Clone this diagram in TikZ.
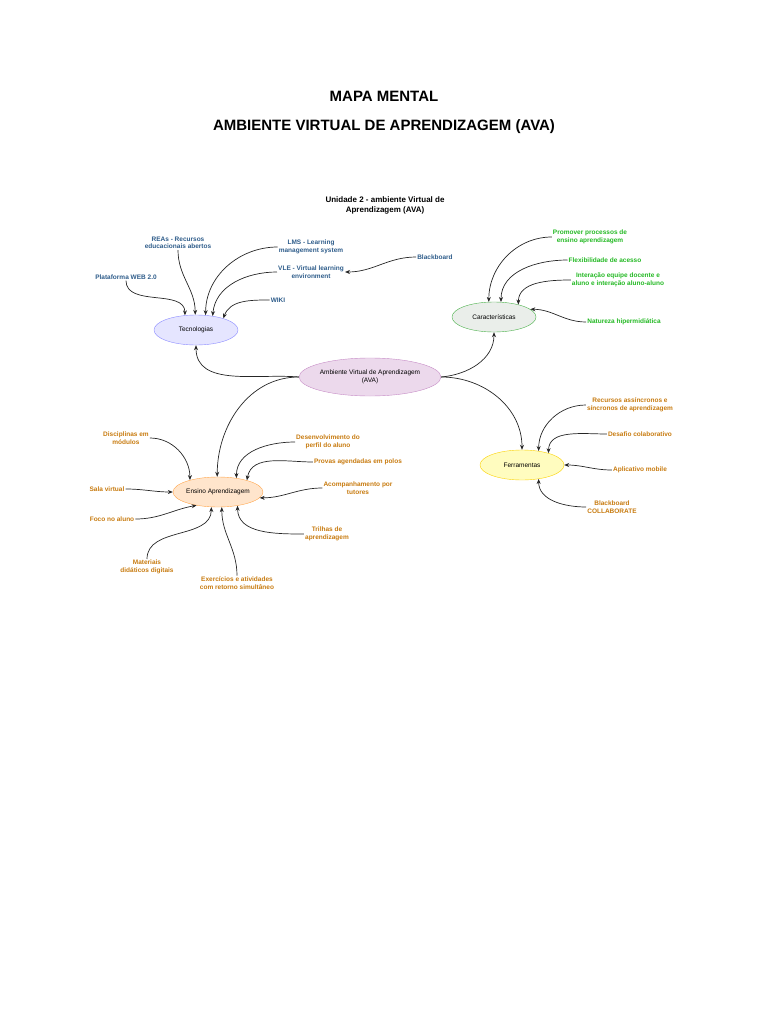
\documentclass[tikz,border=0pt]{standalone}
\usepackage{fontspec}
\setmainfont{Liberation Sans}
\usetikzlibrary{shapes.geometric,arrows.meta}
\definecolor{tblue}{HTML}{2E5C8A}
\definecolor{tgreen}{HTML}{22B822}
\definecolor{torange}{HTML}{C77A0E}
\tikzset{
  el/.style={ellipse,draw,minimum width=84pt,minimum height=30pt,inner sep=0pt,font=\fontsize{6.5}{7.5}\selectfont},
  lb/.style={align=center,inner sep=1pt,font=\bfseries\fontsize{6.5}{7.5}\selectfont},
  bl/.style={lb,text=tblue},
  gl/.style={lb,text=tgreen},
  ol/.style={lb,text=torange},
  ar/.style={-{Stealth[length=5pt,width=4pt]},line width=0.7pt,black!85}
}
\begin{document}
\begin{tikzpicture}[x=1pt,y=1pt]
\useasboundingbox (0,0) rectangle (768,-1024);
\node[font=\bfseries\fontsize{15}{18}\selectfont] (t1) at (384,-96) {MAPA MENTAL};
\node[font=\bfseries\fontsize{15}{18}\selectfont] (t2) at (384,-127) {AMBIENTE VIRTUAL DE APRENDIZAGEM (AVA)};
\node[align=center,font=\bfseries\fontsize{8}{10}\selectfont] (st) at (385,-205) {Unidade 2 - ambiente Virtual de\\Aprendizagem (AVA)};

\node[el,fill=blue!10,draw=blue!45] (tec) at (196,-330) {Tecnologias};
\node[el,fill=green!12!gray!15,draw=green!40!gray] (car) at (494,-317) {Características};
\node[el,fill=violet!15,draw=violet!45,minimum width=112pt,minimum height=38pt,align=center] (amb) at (370,-377) {Ambiente Virtual de Aprendizagem\\(AVA)};
\node[el,fill=yellow!25,draw=yellow!70!orange] (fer) at (522,-465) {Ferramentas};
\node[el,fill=orange!20,draw=orange!70] (ens) at (218,-492) {Ensino Aprendizagem};

% blue
\node[bl] (rea) at (178,-243) {REAs - Recursos\\educacionais abertos};
\node[bl] (lms) at (311,-247) {LMS - Learning\\management system};
\node[bl] (web) at (126,-277) {Plataforma WEB 2.0};
\node[bl] (vle) at (311,-272) {VLE - Virtual learning\\environment};
\node[bl] (bb) at (435,-257) {Blackboard};
\node[bl] (wiki) at (278,-300) {WIKI};
\draw[ar] (rea.south) to[out=-90,in=90] (tec.93);
\draw[ar] (lms.west) to[out=180,in=90] (tec.57);
\draw[ar] (web.south) to[out=-90,in=90] (tec.127);
\draw[ar] (vle.west) to[out=180,in=85] (tec.40);
\draw[ar] (wiki.west) to[out=180,in=70] (tec.23);
\draw[ar] (bb.west) to[out=180,in=0] (vle.east);

% green
\node[gl] (pro) at (590,-237) {Promover processos de\\ensino aprendizagem};
\node[gl] (fle) at (605,-260) {Flexibilidade de acesso};
\node[gl] (int) at (618,-280) {Interação equipe docente e\\aluno e interação aluno-aluno};
\node[gl] (nat) at (624,-322) {Natureza hipermidiática};
\draw[ar] (pro.west) to[out=180,in=90] (car.109);
\draw[ar] (fle.west) to[out=180,in=90] (car.65);
\draw[ar] (int.west) to[out=180,in=90] (car.27);
\draw[ar] (nat.west) to[out=180,in=0] (car.12);

% central
\draw[ar] (amb.west) to[out=175,in=-90] (tec.south);
\draw[ar] (amb.east) to[out=5,in=-90] (car.south);
\draw[ar] (amb.east) to[out=0,in=90] (fer.north);
\draw[ar] (amb.west) to[out=180,in=90] (ens.93);

% ferramentas
\node[ol] (rec) at (630,-405) {Recursos assíncronos e\\síncronos de aprendizagem};
\node[ol] (des) at (640,-434) {Desafio colaborativo};
\node[ol] (apl) at (640,-470) {Aplicativo mobile};
\node[ol] (bbc) at (612,-507) {Blackboard\\COLLABORATE};
\draw[ar] (rec.west) to[out=180,in=90] (fer.40);
\draw[ar] (des.west) to[out=180,in=90] (fer.24);
\draw[ar] (apl.west) to[out=180,in=0] (fer.0);
\draw[ar] (bbc.west) to[out=180,in=-90] (fer.-40);

% ensino
\node[ol] (dis) at (126,-438) {Disciplinas em\\módulos};
\node[ol] (dpa) at (328,-442) {Desenvolvimento do\\perfil do aluno};
\node[ol] (pro2) at (358,-462) {Provas agendadas em polos};
\node[ol] (sal) at (107,-489) {Sala virtual};
\node[ol] (aco) at (358,-488) {Acompanhamento por\\tutores};
\node[ol] (foc) at (112,-519) {Foco no aluno};
\node[ol] (tri) at (327,-534) {Trilhas de\\aprendizagem};
\node[ol] (mat) at (147,-567) {Materiais\\didáticos digitais};
\node[ol] (exe) at (237,-583) {Exercícios e atividades\\com retorno simultâneo};
\draw[ar] (dis.east) to[out=0,in=90] (ens.157);
\draw[ar] (dpa.west) to[out=180,in=90] (ens.37);
\draw[ar] (pro2.west) to[out=180,in=80] (ens.22);
\draw[ar] (sal.east) to[out=0,in=180] (ens.west);
\draw[ar] (aco.west) to[out=180,in=0] (ens.-8);
\draw[ar] (foc.east) to[out=0,in=190] (ens.212);
\draw[ar] (mat.north) to[out=90,in=-90] (ens.246);
\draw[ar] (exe.north) to[out=90,in=-90] (ens.284);
\draw[ar] (tri.west) to[out=180,in=-90] (ens.-35);
\end{tikzpicture}
\end{document}
